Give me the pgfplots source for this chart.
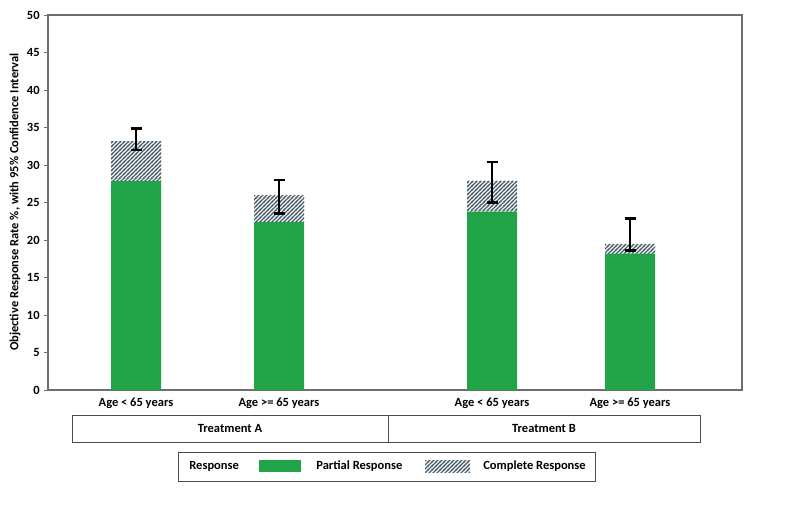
\documentclass[border=0pt]{standalone}
\usepackage{fontspec}
\setmainfont{Carlito}
\usepackage{pgfplots}
\pgfplotsset{compat=1.18}
\usetikzlibrary{patterns.meta}

\definecolor{prgreen}{RGB}{33,163,72}
\definecolor{hatchcol}{RGB}{75,95,110}
\definecolor{framecol}{RGB}{110,110,110}

\tikzdeclarepattern{
  name=crhatch,
  type=uncolored,
  bounding box={(-1pt,-1pt) and (5pt,5pt)},
  tile size={(4pt,4pt)},
  code={\draw[line width=1.3pt] (-1pt,-1pt) -- (5pt,5pt);}
}

\begin{document}
\fontsize{12.5}{15}\selectfont
\begin{tikzpicture}
\path[use as bounding box] (0,0) rectangle (793pt,-506pt);

\pgfplotsset{
  chartbase/.style={
    at={(48pt,-390pt)}, anchor=south west,
    scale only axis, width=694pt, height=375pt,
    xmin=0, xmax=694, ymin=0, ymax=50,
  }
}

\begin{axis}[
  chartbase,
  ybar stacked, bar width=50,
  axis line style={framecol, line width=1.2pt},
  xtick={88,231,444,582},
  xticklabels={Age < 65 years, Age >= 65 years, Age < 65 years, Age >= 65 years},
  x tick style={draw=none},
  ytick={0,5,...,50},
  ytick pos=left,
  y tick style={framecol, line width=0.8pt},
  tick align=outside, major tick length=4pt,
  tick label style={font=\fontsize{12.5}{15}\selectfont\bfseries, /pgf/number format/assume math mode=true},
  xticklabel style={yshift=0pt},
]
\addplot[fill=prgreen, draw=none] coordinates {(88,27.9) (231,22.4) (444,23.8) (582,18.2)};
\addplot[pattern={crhatch}, pattern color=hatchcol, draw=none] coordinates {(88,5.3) (231,3.6) (444,4.1) (582,1.3)};
\end{axis}

\begin{axis}[chartbase, hide axis]
\addplot[draw=none, mark=none,
  error bars/.cd, y dir=both, y explicit,
  error bar style={draw=black, line width=2.6pt},
  error mark options={draw=black, rotate=90, mark size=5.5pt, line width=2.6pt}]
  coordinates {
    (88,33.45) +- (0,1.45)
    (231,25.75) +- (0,2.25)
    (444,27.7) +- (0,2.7)
    (582,20.75) +- (0,2.15)
  };
\end{axis}

% y label
\node[font=\bfseries, rotate=90] at (15pt,-202pt) {Objective Response Rate \%, with 95\% Confidence Interval};

% treatment box
\draw[black!70, line width=0.8pt] (72pt,-415pt) rectangle (700pt,-442pt);
\draw[black!70, line width=0.8pt] (388pt,-415pt) -- (388pt,-442pt);
\node[font=\bfseries] at (230pt,-428pt) {Treatment A};
\node[font=\bfseries] at (544pt,-428pt) {Treatment B};

% legend box
\draw[black!70, line width=0.8pt] (178pt,-452pt) rectangle (595pt,-481pt);
\node[font=\bfseries, anchor=west] at (185pt,-466pt) {Response};
\fill[prgreen] (259pt,-460pt) rectangle (301pt,-472pt);
\node[font=\bfseries, anchor=west] at (312pt,-466pt) {Partial Response};
\fill[pattern={crhatch}, pattern color=hatchcol] (425pt,-460pt) rectangle (470pt,-472pt);
\node[font=\bfseries, anchor=west] at (479pt,-466pt) {Complete Response};
\end{tikzpicture}
\end{document}
